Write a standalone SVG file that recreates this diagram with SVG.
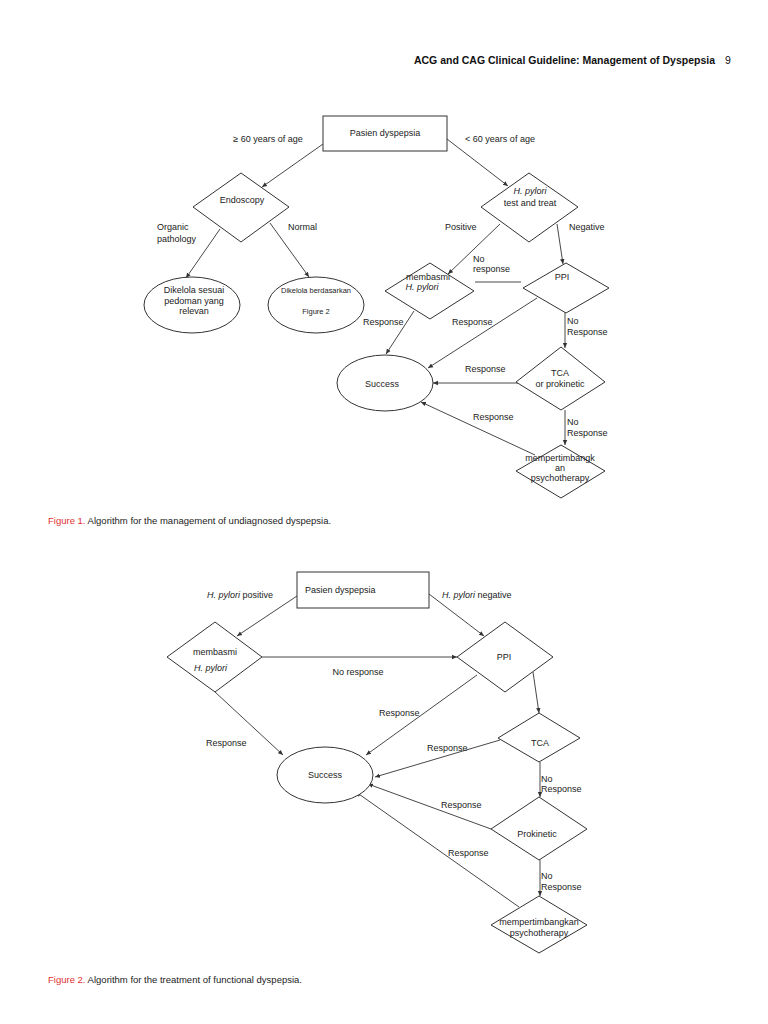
<svg xmlns="http://www.w3.org/2000/svg" width="768" height="1024" viewBox="0 0 768 1024">
<style>
text{font-family:"Liberation Sans",Arial,sans-serif;font-size:9px;fill:#222}
.c{text-anchor:middle}
.i{font-style:italic}
.s{fill:#fff;stroke:#333;stroke-width:1}
.l{stroke:#333;stroke-width:0.9;fill:none;marker-end:url(#a)}
.hd{font-size:10.5px;font-weight:bold;fill:#111}
.cap{font-size:9.5px}
</style>
<defs><marker id="a" markerWidth="6" markerHeight="6" refX="5" refY="3" orient="auto" markerUnits="userSpaceOnUse"><path d="M0,0.8 L5,3 L0,5.2z" fill="#333"/></marker></defs>
<rect width="768" height="1024" fill="#fff"/>
<text x="715" y="64" class="hd" text-anchor="end">ACG and CAG Clinical Guideline: Management of Dyspepsia</text>
<text x="725" y="64" class="hd" style="font-weight:normal">9</text>

<g id="connectors">
<line class="l" x1="323" y1="144" x2="262" y2="187"/>
<line class="l" x1="447" y1="139" x2="508" y2="186"/>
<line class="l" x1="220" y1="229" x2="186" y2="278"/>
<line class="l" x1="270" y1="223" x2="309" y2="277"/>
<line class="l" x1="500" y1="224" x2="448" y2="274"/>
<line class="l" x1="557" y1="224" x2="563" y2="264"/>
<line stroke="#333" stroke-width="0.9" x1="475" y1="282" x2="521" y2="282"/>
<line class="l" x1="414" y1="311" x2="386" y2="354"/>
<line class="l" x1="537" y1="298" x2="428" y2="368"/>
<line class="l" x1="565" y1="303" x2="565" y2="348"/>
<line class="l" x1="518" y1="383" x2="433" y2="383" stroke-width="2"/>
<line class="l" x1="565" y1="410" x2="565" y2="445"/>
<line class="l" x1="535" y1="455" x2="421" y2="402"/>

<line class="l" x1="297" y1="596" x2="237" y2="636"/>
<line class="l" x1="429" y1="594" x2="484" y2="636"/>
<line class="l" x1="262" y1="657" x2="457" y2="657"/>
<line class="l" x1="477" y1="675" x2="366" y2="755"/>
<line class="l" x1="215" y1="692" x2="283" y2="755"/>
<line class="l" x1="533" y1="672" x2="539" y2="713"/>
<line class="l" x1="500" y1="740" x2="375" y2="777"/>
<line class="l" x1="540" y1="762" x2="540" y2="797"/>
<line class="l" x1="491" y1="829" x2="368" y2="784"/>
<line class="l" x1="540" y1="860" x2="540" y2="896"/>
<line class="l" x1="519" y1="907" x2="356" y2="792"/>
</g>

<g id="labels1">
<text x="268" y="142" class="c">≥ 60 years of age</text>
<text x="500" y="142" class="c">&lt; 60 years of age</text>
<text x="157" y="230">Organic</text>
<text x="157" y="242">pathology</text>
<text x="288" y="230">Normal</text>
<text x="445" y="230">Positive</text>
<text x="569" y="230">Negative</text>
<text x="473" y="262">No</text>
<text x="473" y="272">response</text>
<text x="363" y="325">Response</text>
<text x="452" y="325">Response</text>
<text x="567" y="324">No</text>
<text x="567" y="335">Response</text>
<text x="465" y="372">Response</text>
<text x="567" y="425">No</text>
<text x="567" y="436">Response</text>
<text x="473" y="420">Response</text>
</g>

<g id="f1-start"><rect class="s" x="323" y="116" width="124" height="35"/><text x="385" y="136" class="c">Pasien dyspepsia</text></g>
<g id="f1-endoscopy"><polygon class="s" points="241,173 289,207 241,242 193,207"/><text x="242" y="203" class="c">Endoscopy</text></g>
<g id="f1-hp"><polygon class="s" points="529,173 578,207 529,242 481,207"/><text x="530" y="194" class="c i">H. pylori</text><text x="530" y="206" class="c">test and treat</text></g>
<g id="f1-dikelola"><ellipse class="s" cx="192" cy="305" rx="48" ry="28"/><text x="194" y="293" class="c">Dikelola sesuai</text><text x="194" y="304" class="c">pedoman yang</text><text x="194" y="314" class="c">relevan</text></g>
<g id="f1-fig2"><ellipse class="s" cx="316" cy="305" rx="48" ry="28"/><text x="316" y="293" class="c" style="font-size:7px" textLength="70" lengthAdjust="spacingAndGlyphs">Dikelola berdasarkan</text><text x="316" y="314" class="c" style="font-size:7.5px">Figure 2</text></g>
<g id="f1-membasmi"><polygon class="s" points="430,263 474,291 430,319 385,291"/><text x="428" y="280" class="c">membasmi</text><text x="422" y="290" class="c i">H. pylori</text></g>
<g id="f1-ppi"><polygon class="s" points="566,263 609,288 566,313 523,288"/><text x="562" y="280" class="c">PPI</text></g>
<g id="f1-success"><ellipse class="s" cx="385" cy="383" rx="48" ry="28"/><text x="382" y="387" class="c">Success</text></g>
<g id="f1-tca"><polygon class="s" points="561,347 605,382 561,410 516,382"/><text x="560" y="376" class="c">TCA</text><text x="560" y="387" class="c">or prokinetic</text></g>
<g id="f1-psy"><polygon class="s" points="561,445 605,471 561,498 516,471"/><text x="560" y="461" class="c">mempertimbangk</text><text x="560" y="471" class="c">an</text><text x="560" y="481" class="c">psychotherapy</text></g>

<text x="48" y="524" class="cap"><tspan fill="#e03030">Figure 1.</tspan> Algorithm for the management of undiagnosed dyspepsia.</text>

<g id="labels2">
<text x="207" y="598"><tspan class="i">H. pylori</tspan> positive</text>
<text x="442" y="598"><tspan class="i">H. pylori</tspan> negative</text>
<text x="358" y="675" class="c">No response</text>
<text x="379" y="716">Response</text>
<text x="206" y="746">Response</text>
<text x="427" y="751">Response</text>
<text x="541" y="782">No</text>
<text x="541" y="792">Response</text>
<text x="441" y="808">Response</text>
<text x="541" y="879">No</text>
<text x="541" y="890">Response</text>
<text x="448" y="856">Response</text>
</g>

<g id="f2-start"><rect class="s" x="297" y="572" width="132" height="36"/><text x="305" y="593">Pasien dyspepsia</text></g>
<g id="f2-membasmi"><polygon class="s" points="215,622 262,657 215,692 167,657"/><text x="193" y="655">membasmi</text><text x="194" y="671" class="i">H. pylori</text></g>
<g id="f2-ppi"><polygon class="s" points="505,622 553,657 505,692 457,657"/><text x="504" y="660" class="c">PPI</text></g>
<g id="f2-success"><ellipse class="s" cx="325" cy="775" rx="48" ry="28"/><text x="325" y="778" class="c">Success</text></g>
<g id="f2-tca"><polygon class="s" points="539,713 580,738 539,762 498,738"/><text x="540" y="746" class="c">TCA</text></g>
<g id="f2-prokinetic"><polygon class="s" points="539,797 587,829 539,860 491,829"/><text x="537" y="837" class="c">Prokinetic</text></g>
<g id="f2-psy"><polygon class="s" points="539,896 587,925 539,953 491,925"/><text x="539" y="925" class="c">mempertimbangkan</text><text x="539" y="936" class="c">psychotherapy</text></g>

<text x="48" y="983" class="cap"><tspan fill="#e03030">Figure 2.</tspan> Algorithm for the treatment of functional dyspepsia.</text>
</svg>
